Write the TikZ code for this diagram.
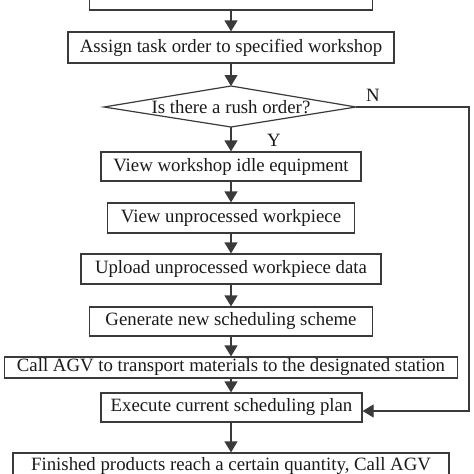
\documentclass[tikz,border=0pt]{standalone}
\usepackage{fontspec}
\setmainfont{Liberation Serif}
\usetikzlibrary{arrows.meta}
\definecolor{ln}{HTML}{3A3A3A}
\definecolor{tx}{HTML}{1A1A1A}
\begin{document}
\begin{tikzpicture}[x=1pt,y=-1pt,
  font=\fontsize{18.8}{22}\selectfont,
  box/.style={draw=ln,line width=1.2pt,rectangle,inner sep=0pt,text=tx,minimum width=#1},
  arr/.style={draw=ln,line width=1.2pt,-{Triangle[length=11pt,width=13pt]}},
  lbl/.style={text=tx,inner sep=0pt}]
\useasboundingbox (0,0) rectangle (474,474);
\node[box=283,minimum height=30] (top) at (231,-5) {};
\node[box=326,minimum height=31] (b2) at (231,47.5) {Assign task order to specified workshop};
\coordinate (dl) at (104,107);
\coordinate (dr) at (356,107);
\coordinate (dt) at (231,86);
\coordinate (db) at (231,127);
\draw[ln,line width=1.2pt] (dl) -- (dt) -- (dr) -- (db) -- cycle;
\node[lbl] (dia) at (231,107) {Is there a rush order?};
\node[box=260,minimum height=29] (b3) at (231,166.5) {View workshop idle equipment};
\node[box=247,minimum height=30] (b4) at (231,218) {View unprocessed workpiece};
\node[box=300,minimum height=30] (b5) at (231,269) {Upload unprocessed workpiece data};
\node[box=283,minimum height=29] (b6) at (231,321.5) {Generate new scheduling scheme};
\node[box=453,minimum height=21] (b7) at (231,367.5) {Call AGV to transport materials to the designated station};
\node[box=261,minimum height=29] (b8) at (231.5,407.5) {Execute current scheduling plan};
\node[box=436,minimum height=25] (b9) at (231,465.5) {Finished products reach a certain quantity, Call AGV};
\node[lbl] (nl) at (373,95) {N};
\node[lbl] (yl) at (274,140) {Y};
\coordinate (nc) at (469,107);
\coordinate (nb) at (469,411);
\draw[arr] (top.south) -- (b2.north);
\draw[arr] (b2.south) -- (dt);
\draw[arr] (db) -- (b3.north);
\draw[arr] (b3.south) -- (b4.north);
\draw[arr] (b4.south) -- (b5.north);
\draw[arr] (b5.south) -- (b6.north);
\draw[arr] (b6.south) -- (b7.north);
\draw[arr] (b7.south) -- (b8.north -| b7.south);
\draw[arr] (b8.south -| b7.south) -- (b9.north);
\draw[arr] (dr) -- (nc) -- (nb) -- (b8.east |- nb);
\end{tikzpicture}
\end{document}
